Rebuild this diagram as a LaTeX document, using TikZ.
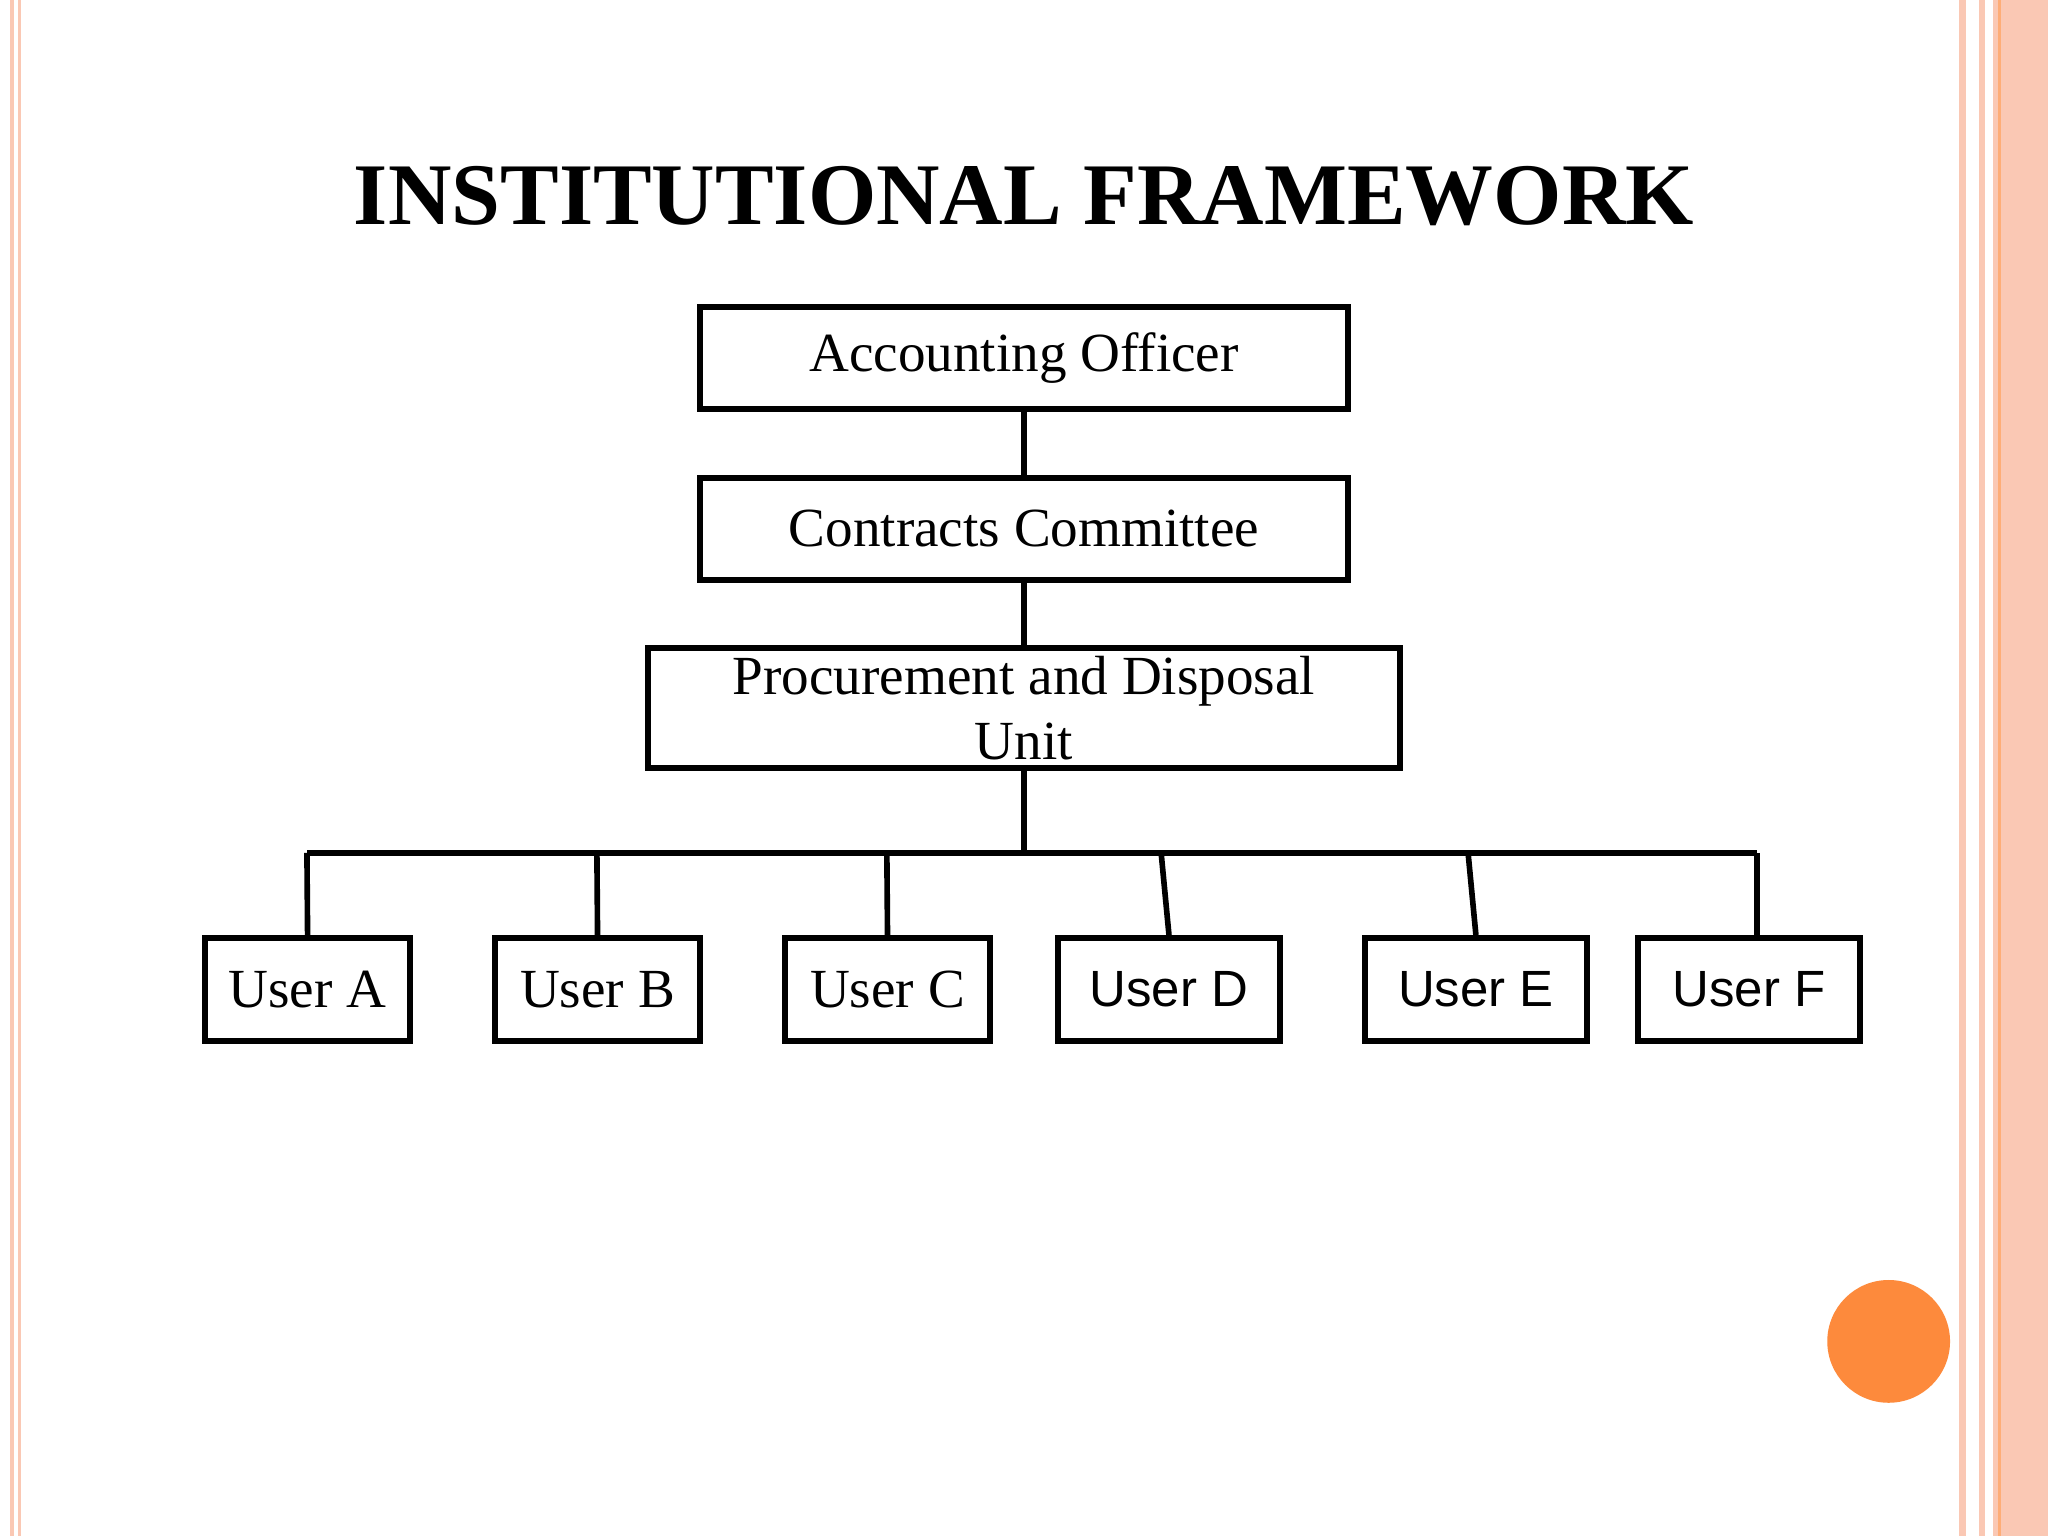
\documentclass[tikz,border=0pt]{standalone}
\usepackage{fontspec}
\setmainfont{Liberation Serif}
\newfontfamily\arialfont{Liberation Sans}
\begin{document}
\begin{tikzpicture}[x=0.01306cm,y=-0.01306cm]
  \tikzstyle{boite}=[draw,line width=1.6pt,inner sep=0pt,font=\fontsize{15.7}{15.7}\selectfont]
  \tikzstyle{usager}=[boite,minimum width={157*0.01306cm},minimum height={79*0.01306cm}]
  \tikzstyle{usager2}=[boite,minimum width={170*0.01306cm},minimum height={79*0.01306cm},font=\arialfont\fontsize{14.5}{14.5}\selectfont]
  \tikzstyle{lien}=[line width=1.6pt]
  \definecolor{rose}{RGB}{250,200,180}
  \definecolor{orange1}{RGB}{253,138,60}
  \useasboundingbox (0,0) rectangle (1568,1176);
  % bordures
  \fill[white] (0,0) rectangle (1568,1176);
  \draw[rose,line width=1pt] (9,0) -- (9,1176);
  \draw[rose,line width=1pt] (15,0) -- (15,1176);
  \fill[rose] (1500,0) rectangle (1505,1176);
  \fill[rose] (1515,0) rectangle (1520,1176);
  \fill[rose] (1526,0) rectangle (1568,1176);
  \draw[orange1!70,line width=0.8pt] (1531,0) -- (1531,1176);
  \fill[orange1] (1446,1027) circle (47);
  % titre
  \node[font=\bfseries\fontsize{25}{25}\selectfont] (titre) at (784,150) {INSTITUTIONAL FRAMEWORK};
  % boites
  \node[boite,minimum width={496*0.01306cm},minimum height={78*0.01306cm}] (ao) at (784,274) {Accounting Officer};
  \node[boite,minimum width={496*0.01306cm},minimum height={78*0.01306cm}] (cc) at (784,405) {Contracts Committee};
  \node[boite,minimum width={576*0.01306cm},minimum height={92*0.01306cm},align=center,font=\fontsize{15.7}{18.5}\selectfont] (pdu) at (784,542) {Procurement and Disposal\\Unit};
  \node[usager] (ua) at (235.5,757.5) {User A};
  \node[usager] (ub) at (457.5,757.5) {User B};
  \node[usager] (uc) at (679.5,757.5) {User C};
  \node[usager2] (ud) at (895,757.5) {User D};
  \node[usager2] (ue) at (1130,757.5) {User E};
  \node[usager2] (uf) at (1339,757.5) {User F};
  % liens
  \coordinate (bus) at (784,653);
  \coordinate (gauche) at (235,653);
  \coordinate (droite) at (1345,653);
  \draw[lien] (ao) -- (cc);
  \draw[lien] (cc) -- (pdu);
  \draw[lien] (pdu) -- (bus);
  \draw[lien] (gauche) -- (droite);
  \draw[lien] (gauche) -- (ua.north);
  \draw[lien] (457,653) -- (ub.north);
  \draw[lien] (679,653) -- (uc.north);
  \draw[lien] (889,653) -- (ud.north);
  \draw[lien] (1124,653) -- (ue.north);
  \draw[lien] (droite) -- (1345,718);
\end{tikzpicture}
\end{document}
